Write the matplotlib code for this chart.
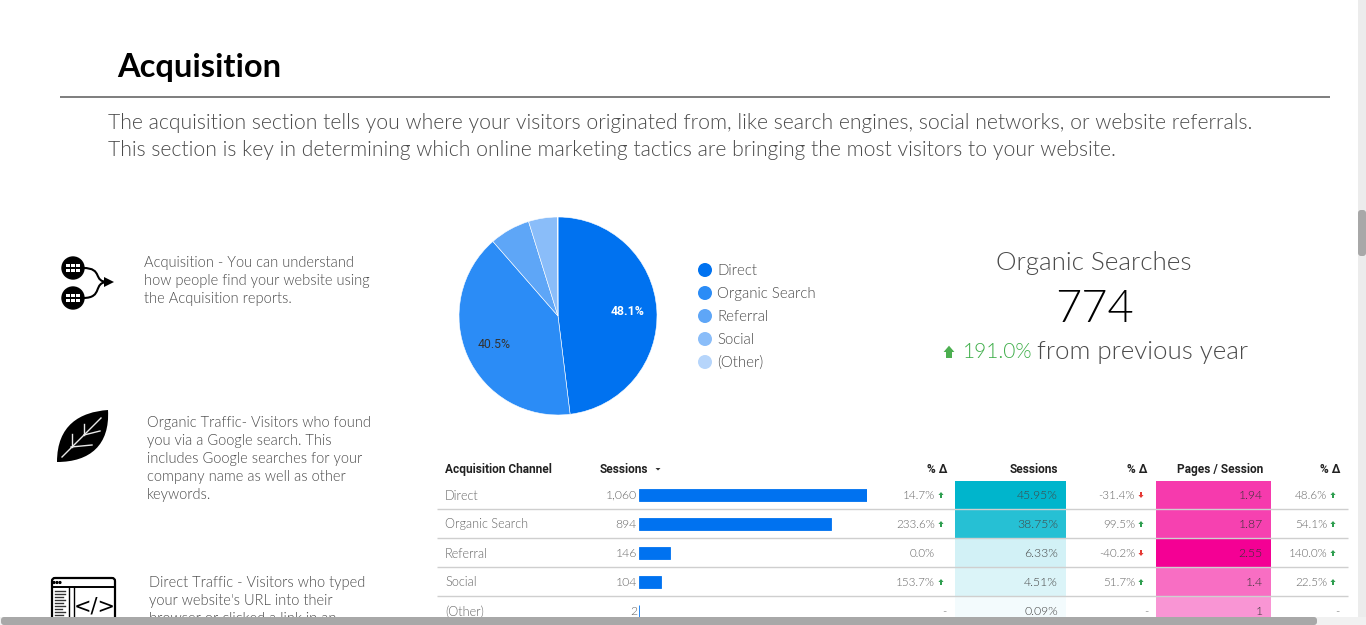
import matplotlib
matplotlib.use("Agg")
import matplotlib.pyplot as plt
from matplotlib.colors import LinearSegmentedColormap, Normalize
from matplotlib.patches import Circle, FancyBboxPatch, PathPatch, Polygon, Rectangle
from matplotlib.path import Path

channels = ["Direct", "Organic Search", "Referral", "Social", "(Other)"]
sessions = [1060, 894, 146, 104, 2]
sessions_delta = [14.7, 233.6, 0.0, 153.7, None]
sessions_share = [45.95, 38.75, 6.33, 4.51, 0.09]
share_delta = [-31.4, 99.5, -40.2, 51.7, None]
pages_per_session = [1.94, 1.87, 2.55, 1.4, 1]
pages_delta = [48.6, 54.1, 140.0, 22.5, None]

W, H = 1366, 625
BODY = "Lato"
LIGHT = 300
TABLE = "Roboto"
GREY = "#4a4a4a"
CELL_GREY = "#666666"
pie_colors = ["#0072f0", "#2b8cf6", "#5ea6f7", "#8abdf9", "#b6d5fb"]

fig = plt.figure(figsize=(W / 100, H / 100), dpi=100, facecolor="white")


def px_axes(x0, y0, x1, y1, z):
    return fig.add_axes([x0 / W, 1 - y1 / H, (x1 - x0) / W, (y1 - y0) / H], zorder=z)


bg = px_axes(0, 0, W, H, 0)
bg.set_xlim(0, W)
bg.set_ylim(H, 0)
bg.axis("off")

# heading
bg.text(117.5, 77, "Acquisition", fontsize=23.5, fontweight="bold", family=BODY, color="black")
bg.add_patch(Rectangle((60, 96), 1270, 2, color="#808080", lw=0))
bg.text(108, 129, "The acquisition section tells you where your visitors originated from, like search engines, social networks, or website referrals.",
        fontsize=15.23, family=BODY, fontweight=LIGHT, color=GREY)
bg.text(108, 156, "This section is key in determining which online marketing tactics are bringing the most visitors to your website.",
        fontsize=15.23, family=BODY, fontweight=LIGHT, color=GREY)

# left column text
left_blocks = [
    (144, 263, ["Acquisition - You can understand", "how people find your website using", "the Acquisition reports."]),
    (147, 423, ["Organic Traffic- Visitors who found", "you via a Google search. This", "includes Google searches for your",
                "company name as well as other", "keywords."]),
    (149, 583, ["Direct Traffic - Visitors who typed", "your website's URL into their", "browser or clicked a link in an"]),
]
for x, y, lines in left_blocks:
    for i, line in enumerate(lines):
        bg.text(x, y + i * 18, line, fontsize=10.55, family=BODY, fontweight=LIGHT, color=GREY, va="center")

# network icon
for cy in [268, 298]:
    bg.add_patch(Circle((73, cy), 11, color="black"))
    for dx in [-5, 0, 5]:
        for dy in [-2.5, 2.5]:
            bg.add_patch(Rectangle((73 + dx - 1.6, cy + dy - 1.6), 3.2, 3.2, color="white", lw=0))
for y0, y1 in [(268, 282), (298, 282)]:
    curve = Path([(83, y0), (104, y0), (92, y1), (108, y1)], [Path.MOVETO, Path.CURVE4, Path.CURVE4, Path.CURVE4])
    bg.add_patch(PathPatch(curve, fc="none", ec="black", lw=1.5))
bg.add_patch(Polygon([(104, 277), (114, 282), (104, 287)], color="black", lw=0))

# leaf icon
leaf = Path([(108, 410), (80, 412), (57, 425), (57, 462), (90, 462), (110, 445), (108, 410)],
            [Path.MOVETO, Path.CURVE4, Path.CURVE4, Path.CURVE4, Path.CURVE4, Path.CURVE4, Path.CURVE4])
bg.add_patch(PathPatch(leaf, fc="black", ec="none"))
for xs, ys in [([62, 101], [457, 418]), ([72, 72], [434, 447]), ([71, 92], [447, 445]),
               ([84, 84], [424, 435]), ([84, 100], [435, 431])]:
    bg.plot(xs, ys, color="#e8e8e8", lw=1)

# browser icon
bg.add_patch(FancyBboxPatch((52, 578), 63, 60, boxstyle="round,pad=0,rounding_size=3", fc="white", ec="black", lw=1.6))
bg.plot([52, 115], [587, 587], color="black", lw=1.4)
bg.plot([69, 69], [587, 625], color="black", lw=1)
bg.plot([74, 74], [587, 625], color="black", lw=1)
for dot in [54, 57, 60]:
    bg.add_patch(Circle((dot, 582.5), 0.9, color="black"))
for i, ln in enumerate([10, 10, 8, 10, 8, 10, 7, 10, 8]):
    bg.plot([55, 55 + ln], [591 + i * 3, 591 + i * 3], color="#333333", lw=1)
bg.text(95, 607, "</>", fontsize=15, family="DejaVu Sans", ha="center", va="center", color="black")

# pie
pie_ax = px_axes(459, 217, 657, 415, 1)
wedges, pie_texts, pie_pcts = pie_ax.pie(
    sessions, colors=pie_colors, startangle=90, counterclock=False, radius=1,
    autopct=lambda p: f"{p:.1f}%" if p > 10 else "", pctdistance=0.707,
    wedgeprops={"edgecolor": "white", "linewidth": 0.4},
)
pie_ax.set_xlim(-1, 1)
pie_ax.set_ylim(-1, 1)
for t, c, w in zip(pie_pcts, ["white", "#333333"], ["bold", "normal"]):
    t.set(color=c, fontweight=w, fontsize=8.8, family=TABLE)

# pie legend
for i, (name, color) in enumerate(zip(channels, pie_colors)):
    y = 270 + i * 23
    bg.add_patch(Circle((705, y), 7, color=color, lw=0))
    bg.text(717, y + 1, name, fontsize=10.8, family=BODY, fontweight=LIGHT, color=GREY, va="center")

# scorecard
bg.text(1094, 263, "Organic Searches", fontsize=18.75, family=BODY, fontweight=LIGHT, color=GREY, ha="center", va="center")
bg.text(1094, 309, "774", fontsize=32.5, family=BODY, fontweight=LIGHT, color="black", ha="center", va="center")
bg.text(963, 352.5, "191.0%", fontsize=15, family=BODY, fontweight=LIGHT, color="#3fae4a", va="center")
bg.text(1037, 352.5, "from previous year", fontsize=18.6, family=BODY, fontweight=LIGHT, color=GREY, va="center")


def arrow(x, y, up=True, size=1.0, color="#2e9e4f"):
    s = -1 if up else 1
    bg.add_patch(Polygon([(x - 3 * size, y), (x, y + s * 3.5 * size), (x + 3 * size, y)], color=color, lw=0, zorder=3))
    bg.add_patch(Rectangle((x - 1.5 * size, y - (3.2 * size if not up else 0)), 3 * size, 3.2 * size, color=color, lw=0, zorder=3))


arrow(949, 352, True, 1.8, "#4caf50")

# table
row_y = [495, 524, 553, 582, 611]
header_y = 469.5
for x, label, ha in [(445, "Acquisition Channel", "left"), (600, "Sessions", "left"), (947, "% Δ", "right"),
                     (1058, "Sessions", "right"), (1147, "% Δ", "right"), (1263, "Pages / Session", "right"),
                     (1340, "% Δ", "right")]:
    bg.text(x, header_y, label, fontsize=8.6, fontweight="bold", family=TABLE, color="#222222", ha=ha, va="center")
bg.add_patch(Polygon([(655.5, 468), (660.5, 468), (658, 470.5)], color="#333333", lw=0))

share_cmap = LinearSegmentedColormap.from_list("share", ["#f3fbfd", "#00b5cc"])
pages_cmap = LinearSegmentedColormap.from_list("pages", ["#f995d4", "#f40094"])
share_norm = Normalize(0, max(sessions_share))
pages_norm = Normalize(min(pages_per_session), max(pages_per_session))

for y, share, pages in zip(row_y, sessions_share, pages_per_session):
    bg.add_patch(Rectangle((955, y - 14.5), 111, 29, color=share_cmap(share_norm(share)), lw=0))
    bg.add_patch(Rectangle((1156, y - 14.5), 115, 29, color=pages_cmap(pages_norm(pages)), lw=0))

for y in row_y[:-1]:
    bg.plot([437, 1348], [y + 14.2, y + 14.2], color="#cfcfcf", lw=1, zorder=2, solid_capstyle="butt")


def delta_text(y, value, right, dash_right):
    if value is None:
        bg.text(dash_right, y + 0.5, "-", fontsize=8.4, family=BODY, fontweight=LIGHT, color=CELL_GREY, ha="right", va="center")
        return
    bg.text(right, y + 0.5, f"{value:.1f}%", fontsize=8.4, family=BODY, fontweight=LIGHT, color=CELL_GREY, ha="right", va="center")
    if value > 0:
        arrow(right + 6, y, True, 0.85, "#2e9e4f")
    elif value < 0:
        arrow(right + 6, y, False, 0.85, "#e53935")


for i, y in enumerate(row_y):
    bg.text(445, y + 0.5, channels[i], fontsize=9.1, family=BODY, fontweight=LIGHT, color=CELL_GREY, va="center")
    bg.text(637, y + 0.5, f"{sessions[i]:,}", fontsize=8.8, family=BODY, fontweight=LIGHT, color=CELL_GREY, ha="right", va="center")
    delta_text(y, sessions_delta[i], 935, 946)
    bg.text(1058, y + 0.5, f"{sessions_share[i]:.2f}%", fontsize=8.8, family=BODY, fontweight=LIGHT, color="#444444", ha="right", va="center", zorder=3)
    delta_text(y, share_delta[i], 1135, 1148)
    bg.text(1263, y + 0.5, f"{pages_per_session[i]:g}", fontsize=8.8, family=BODY, fontweight=LIGHT, color="#333333", ha="right", va="center", zorder=3)
    delta_text(y, pages_delta[i], 1327, 1339)

# session bars, one row is 29px high
bar_ax = px_axes(639, 480.5, 867, 625, 1)
bar_ax.barh(range(len(sessions)), sessions, height=12 / 29, color="#0072f0", edgecolor="#0072f0", linewidth=0.6)
bar_ax.set_xlim(0, max(sessions))
bar_ax.set_ylim(4.483, -0.5)
bar_ax.axis("off")

# browser scrollbars sit on top of everything
top = px_axes(0, 0, W, H, 5)
top.set_xlim(0, W)
top.set_ylim(H, 0)
top.axis("off")
top.add_patch(Rectangle((1358, 0), 8, H, color="#ececec", lw=0))
top.add_patch(FancyBboxPatch((1358, 210), 8, 46, boxstyle="round,pad=0,rounding_size=3", color="#a8a8a8", lw=0))
top.add_patch(Rectangle((0, 617), W, 8, color="#f1f1f1", lw=0))
top.add_patch(FancyBboxPatch((1, 617), 1316, 8, boxstyle="round,pad=0,rounding_size=3", color="#a8a8a8", lw=0))

fig.savefig("out.png", dpi=100)
